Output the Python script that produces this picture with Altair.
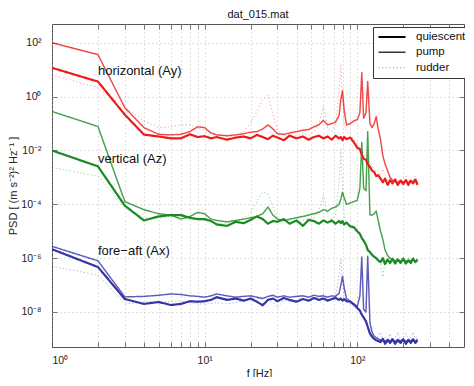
import altair as alt
import pandas as pd

FONT = "Liberation Sans"

# shared frequency grid (Hz)
freq = [1, 2, 3, 4, 5, 6, 7, 8, 9, 10,
        11, 12, 14, 16, 18, 20, 22, 24, 26, 28,
        30, 33, 36, 40, 44, 48, 52, 56, 60, 64,
        68, 72, 76, 78, 80, 82, 85, 90, 95, 100,
        104, 107, 110, 114, 117, 121, 125, 129, 133, 137,
        142, 147, 152, 158, 164, 170, 177, 184, 192, 200,
        208, 216, 224, 232, 240, 248]

# log10 PSD values
red_quiescent = [1.07, 0.56, -0.67, -1.41, -1.48, -1.55, -1.55, -1.40, -1.50, -1.47,
                 -1.55, -1.50, -1.60, -1.52, -1.48, -1.55, -1.42, -1.50, -1.58, -1.45,
                 -1.52, -1.62, -1.45, -1.55, -1.48, -1.60, -1.50, -1.45, -1.55, -1.48,
                 -1.60, -1.45, -1.55, -1.50, -1.62, -1.50, -1.58, -1.52, -1.70, -1.90,
                 -1.95, -2.15, -2.30, -2.35, -2.50, -2.60, -2.75, -2.80, -2.95, -2.92,
                 -3.05, -3.18, -3.05, -3.28, -3.10, -3.22, -3.08, -3.28, -3.12, -3.25,
                 -3.10, -3.28, -3.12, -3.22, -3.08, -3.28]
red_pump = [2.00, 1.56, -0.41, -1.15, -1.40, -1.42, -1.40, -1.30, -1.12, -1.15,
            -1.35, -1.42, -1.45, -1.42, -1.38, -1.32, -1.30, -1.20, -1.05, -1.20,
            -1.38, -1.40, -1.35, -1.30, -1.25, -1.22, -1.12, -1.05, -0.88, -1.05,
            -1.00, -0.95, -0.70, -0.10, 0.22, -0.50, -1.05, -1.00, -0.90, -0.85,
            -0.60, 0.89, -0.80, -0.60, 0.56, -1.00, -1.15, -1.00, -0.74, -1.20,
            -1.60, -2.20, -2.50, -2.75, -3.00, -3.10, -3.15, -3.20, -3.12, -3.18,
            -3.12, -3.20, -3.12, -3.18, -3.10, -3.20]
red_rudder = [0.81, 0.33, -0.40, -0.90, -1.15, -1.12, -1.05, -1.05, -1.15, -1.25,
              -1.35, -1.42, -1.48, -1.45, -1.30, -1.00, -0.55, -0.10, 0.05, -0.65,
              -1.25, -1.45, -1.40, -1.45, -1.35, -1.45, -1.30, -1.00, -0.37, -1.20,
              -1.30, -1.05, 0.20, 1.19, 0.10, -1.00, -1.30, -1.40, -1.60, -1.75,
              -1.85, -2.00, -2.10, -2.25, -2.35, -2.45, -2.55, -2.70, -2.75, -2.80,
              -2.90, -2.70, -3.00, -3.10, -2.95, -3.15, -3.00, -3.15, -3.05, -3.10,
              -2.95, -3.15, -3.00, -3.10, -2.95, -3.10]

green_quiescent = [-2.00, -2.59, -4.05, -4.60, -4.45, -4.40, -4.40, -4.50, -4.55, -4.55,
                   -4.62, -4.75, -4.80, -4.65, -4.70, -4.58, -4.45, -4.55, -4.72, -4.62,
                   -4.65, -4.55, -4.72, -4.60, -4.80, -4.58, -4.62, -4.72, -4.60, -4.68,
                   -4.60, -4.72, -4.62, -4.70, -4.62, -4.75, -4.68, -4.82, -4.85, -5.00,
                   -5.10, -5.25, -5.35, -5.50, -5.70, -5.78, -5.88, -5.95, -6.00, -6.08,
                   -6.15, -6.00, -6.22, -6.05, -6.18, -6.02, -6.20, -6.05, -6.18, -6.02,
                   -6.20, -6.08, -6.18, -6.02, -6.15, -6.05]
green_pump = [-0.55, -1.11, -3.90, -4.20, -4.35, -4.40, -4.55, -4.45, -4.30, -4.35,
              -4.55, -4.60, -4.65, -4.60, -4.55, -4.50, -4.45, -4.35, -4.10, -4.40,
              -4.55, -4.60, -4.55, -4.50, -4.45, -4.40, -4.35, -4.30, -4.20, -4.25,
              -4.15, -4.10, -4.00, -3.80, -3.55, -3.75, -4.00, -3.95, -3.90, -3.85,
              -3.40, -1.70, -3.40, -3.50, -1.30, -4.40, -4.40, -4.35, -4.25, -4.60,
              -5.00, -5.30, -5.70, -5.90, -6.00, -6.05, -6.10, -6.05, -6.12, -6.05,
              -6.12, -6.08, -6.10, -6.05, -6.12, -6.08]
green_rudder = [-2.63, -2.96, -4.10, -4.50, -4.50, -4.45, -4.50, -4.55, -4.55, -4.60,
                -4.65, -4.70, -4.70, -4.60, -4.50, -4.30, -3.90, -3.55, -3.60, -4.10,
                -4.50, -4.65, -4.60, -4.70, -4.60, -4.55, -4.50, -4.20, -3.65, -4.40,
                -4.55, -4.40, -3.20, -1.96, -3.30, -4.40, -4.70, -4.85, -4.95, -5.05,
                -5.15, -5.30, -5.40, -5.50, -5.60, -5.70, -5.85, -5.90, -5.95, -6.00,
                -6.20, -6.70, -6.10, -6.05, -6.15, -6.00, -6.10, -6.00, -6.10, -5.95,
                -6.10, -6.00, -6.05, -5.95, -6.10, -6.00]

blue_quiescent = [-5.67, -6.33, -7.52, -7.70, -7.63, -7.74, -7.70, -7.60, -7.62, -7.60,
                  -7.55, -7.45, -7.55, -7.50, -7.58, -7.50, -7.62, -7.75, -7.55, -7.50,
                  -7.60, -7.48, -7.55, -7.62, -7.52, -7.58, -7.48, -7.55, -7.50, -7.58,
                  -7.52, -7.48, -7.55, -7.50, -7.58, -7.52, -7.60, -7.62, -7.72, -7.85,
                  -7.95, -8.10, -8.20, -8.35, -8.55, -8.80, -8.92, -9.00, -9.05, -9.08,
                  -9.12, -9.00, -9.18, -9.05, -9.15, -9.02, -9.18, -9.05, -9.15, -9.02,
                  -9.18, -9.05, -9.15, -9.02, -9.15, -9.05]
blue_pump = [-5.56, -6.10, -7.44, -7.42, -7.38, -7.33, -7.35, -7.40, -7.42, -7.45,
             -7.40, -7.33, -7.40, -7.45, -7.42, -7.40, -7.45, -7.50, -7.42, -7.38,
             -7.45, -7.40, -7.45, -7.42, -7.40, -7.45, -7.38, -7.42, -7.40, -7.45,
             -7.40, -7.42, -7.30, -7.00, -6.67, -7.10, -7.50, -7.60, -7.70, -7.80,
             -7.40, -5.96, -7.90, -8.00, -5.93, -8.40, -8.75, -8.90, -8.95, -9.00,
             -9.05, -9.00, -9.10, -9.02, -9.08, -9.00, -9.10, -9.02, -9.08, -9.00,
             -9.10, -9.02, -9.08, -9.00, -9.10, -9.02]
blue_rudder = [-6.30, -6.63, -7.70, -7.63, -7.60, -7.62, -7.60, -7.65, -7.70, -7.70,
               -7.68, -7.65, -7.70, -7.65, -7.60, -7.55, -7.50, -7.45, -7.50, -7.65,
               -7.85, -7.55, -7.60, -7.55, -7.50, -7.55, -7.50, -7.45, -7.35, -7.55,
               -7.50, -7.45, -6.60, -6.04, -6.90, -7.50, -7.60, -7.70, -7.80, -7.90,
               -8.00, -8.15, -8.25, -8.40, -8.55, -8.70, -8.85, -8.95, -9.00, -8.90,
               -8.75, -9.05, -8.95, -9.10, -8.80, -9.05, -8.95, -8.75, -9.05, -8.95,
               -8.80, -9.05, -8.95, -8.75, -9.00, -8.95]

channels = ["horizontal (Ay)", "vertical (Az)", "fore-aft (Ax)"]
channel_colors = ["#ec1c1c", "#1b8a22", "#3434a8"]
conditions = ["quiescent", "pump", "rudder"]

series = {
    ("horizontal (Ay)", "quiescent"): red_quiescent,
    ("horizontal (Ay)", "pump"): red_pump,
    ("horizontal (Ay)", "rudder"): red_rudder,
    ("vertical (Az)", "quiescent"): green_quiescent,
    ("vertical (Az)", "pump"): green_pump,
    ("vertical (Az)", "rudder"): green_rudder,
    ("fore-aft (Ax)", "quiescent"): blue_quiescent,
    ("fore-aft (Ax)", "pump"): blue_pump,
    ("fore-aft (Ax)", "rudder"): blue_rudder,
}

# annotation texts
text_labels = ["horizontal (Ay)", "vertical (Az)", "fore\u2212aft (Ax)"]
text_f = [2.0, 2.0, 2.0]
text_log_psd = [0.96, -2.33, -5.74]

# tick values / labels
x_tick_values = [1, 2, 3, 4, 5, 6, 7, 8, 9, 10, 20, 30, 40, 50, 60, 70, 80, 90,
                 100, 200, 300, 400]
x_label_values = [1, 10, 100]
x_label_texts = ["10\u2070", "10\u00b9", "10\u00b2"]
y_tick_exps = [-8, -6, -4, -2, 0, 2]
y_tick_texts = ["10\u207b\u2078", "10\u207b\u2076", "10\u207b\u2074",
                "10\u207b\u00b2", "10\u2070", "10\u00b2"]

rows = []
for cond in ["rudder", "pump", "quiescent"]:
    for ch in channels:
        for f, v in zip(freq, series[(ch, cond)]):
            rows.append({"f": f, "psd": 10 ** v, "channel": ch,
                         "condition": cond, "series": ch + "|" + cond})
df = pd.DataFrame(rows)

tdf = pd.DataFrame({"label": text_labels, "f": text_f,
                    "psd": [10 ** v for v in text_log_psd]})

x_expr = ""
for v, t in zip(x_label_values, x_label_texts):
    x_expr += f"datum.value == {v} ? '{t}' : "
x_expr += "''"
y_expr = ""
for e, t in zip(y_tick_exps, y_tick_texts):
    y_expr += f"abs(log(datum.value)/LN10 - ({e})) < 0.01 ? '{t}' : "
y_expr += "''"
y_values = [10.0 ** e for e in y_tick_exps]

xscale = alt.Scale(type="log", domain=[1, 500], nice=False)
yscale = alt.Scale(type="log", domain=[5e-10, 500], nice=False)

GRID = dict(grid=True, gridDash=[1, 3], gridColor="#b4b4b4", gridWidth=0.8)
TICKS = dict(domain=False, ticks=True, tickSize=5, offset=-5, tickColor="#555555",
             tickWidth=0.8, labelFont=FONT, labelFontSize=10.5, labelColor="#222222",
             titleFont=FONT, titleFontSize=11, titleFontWeight="normal",
             titleColor="#222222")

legend_kw = dict(title=None, orient="none", legendX=321, legendY=3,
                 symbolType="M-3,0H3", symbolSize=81, symbolStrokeColor="black",
                 symbolOffset=9, labelOffset=18, labelLimit=300,
                 labelFont=FONT, labelFontSize=11.5, labelColor="#111111",
                 strokeColor="#333333", fillColor="white", padding=4,
                 rowPadding=2.5, cornerRadius=0)

lines = alt.Chart(df).mark_line(clip=True, strokeJoin="round").encode(
    x=alt.X("f:Q", scale=xscale,
            axis=alt.Axis(orient="bottom", values=x_tick_values, labelExpr=x_expr,
                          title="f  [Hz]", labelPadding=8, titleX=207, titleY=31,
                          titleBaseline="middle", titleAlign="center",
                          **GRID, **TICKS)),
    y=alt.Y("psd:Q", scale=yscale,
            axis=alt.Axis(orient="left", values=y_values, labelExpr=y_expr,
                          title="PSD [ (m s\u207b\u00b2)\u00b2 Hz\u207b\u00b9 ]",
                          labelPadding=11, titleX=-44, titleY=161.5, titleAngle=270,
                          titleBaseline="middle", titleAlign="center",
                          **GRID, **TICKS)),
    color=alt.Color("channel:N", scale=alt.Scale(domain=channels, range=channel_colors),
                    legend=None),
    strokeDash=alt.StrokeDash("condition:N",
                              scale=alt.Scale(domain=conditions,
                                              range=[[1, 0], [1, 0], [1.2, 2.4]]),
                              legend=alt.Legend(**legend_kw)),
    strokeWidth=alt.StrokeWidth("condition:N",
                                scale=alt.Scale(domain=conditions, range=[2.2, 0.7, 1.2]),
                                legend=alt.Legend(**legend_kw)),
    opacity=alt.Opacity("condition:N",
                        scale=alt.Scale(domain=conditions, range=[1.0, 0.6, 0.85]),
                        legend=alt.Legend(**legend_kw)),
    detail="series:N",
)

text = alt.Chart(tdf).mark_text(align="left", baseline="middle", font=FONT,
                                fontSize=13, color="#111111").encode(
    x=alt.X("f:Q", scale=xscale,
            axis=alt.Axis(orient="top", values=x_tick_values, labels=False, title=None,
                          grid=False, **TICKS)),
    y=alt.Y("psd:Q", scale=yscale,
            axis=alt.Axis(orient="right", values=y_values, labels=False, title=None,
                          grid=False, **TICKS)),
    text="label:N",
)

chart = alt.layer(lines, text).resolve_axis(x="independent", y="independent").properties(
    width=412, height=323,
    title=alt.TitleParams("dat_015.mat", font=FONT, fontSize=11, fontWeight="normal",
                          color="#111111", offset=4, anchor="middle"),
    autosize=alt.AutoSizeParams(type="none"),
    padding={"left": 44, "top": 16, "right": 1, "bottom": 30},
).configure_view(stroke="#555555", strokeWidth=1)

chart.save("out.html", embed_options={"renderer": "svg", "actions": False})
